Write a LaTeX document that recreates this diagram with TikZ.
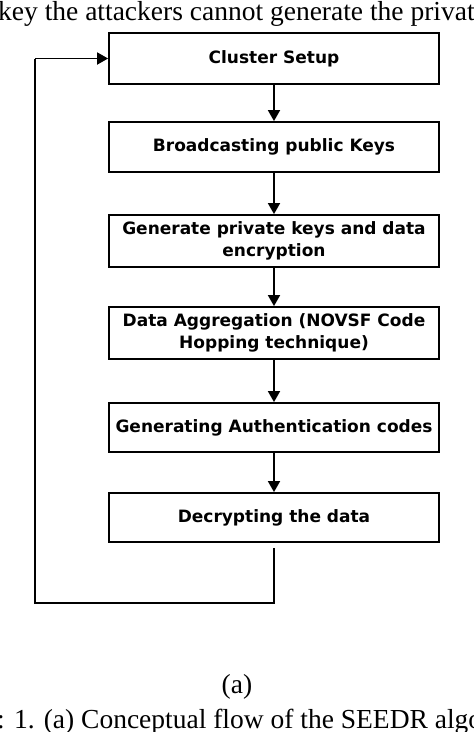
\documentclass[tikz,border=0pt]{standalone}
\usepackage{fontspec}
\setmainfont{Liberation Serif}
\newfontfamily\boxfont{DejaVu Sans}
\usetikzlibrary{arrows.meta}
\tikzset{
  stepbox/.style={draw, line width=1.8pt, minimum width=330pt, inner sep=0pt, align=center,
    font=\boxfont\bfseries\fontsize{17}{22}\selectfont},
  flow/.style={line width=1.8pt, -{Triangle[length=11pt,width=12pt]}},
  loopline/.style={line width=1.8pt},
  serif/.style={font=\fontsize{27.5}{30}\selectfont, inner sep=0pt}
}
\begin{document}
\begin{tikzpicture}[x=1pt,y=-1pt]
\useasboundingbox (0,0) rectangle (474,732);
\clip (0,0) rectangle (474,732);
\node[serif, anchor=base west] (top) at (-2,20) {key the attackers cannot generate the private};
\node[stepbox, minimum height=51pt] (b1) at (274,58.5) {Cluster Setup};
\node[stepbox, minimum height=50pt] (b2) at (274,147) {Broadcasting public Keys};
\node[stepbox, minimum height=52pt] (b3) at (274,241) {Generate private keys and data\\encryption};
\node[stepbox, minimum height=52pt] (b4) at (274,333) {Data Aggregation (NOVSF Code\\Hopping technique)};
\node[stepbox, minimum height=49pt] (b5) at (274,427.5) {Generating Authentication codes};
\node[stepbox, minimum height=49pt] (b6) at (274,517.5) {Decrypting the data};
\draw[flow] (b1) -- (b2);
\draw[flow] (b2) -- (b3);
\draw[flow] (b3) -- (b4);
\draw[flow] (b4) -- (b5);
\draw[flow] (b5) -- (b6);
\coordinate (l0) at ([yshift=-5pt]b6.south);
\coordinate (l1) at (35,603);
\draw[loopline] (l0) -- (l0 |- l1) -- (l1) -- (l1 |- b1.west);
\draw[flow] (l1 |- b1.west) -- (b1.west);
\node[serif, anchor=base] (sub) at (237,693) {(a)};
\node[serif, anchor=base west] (cap) at (-3,728) {: 1. (a) Conceptual flow of the SEEDR algorithm};
\end{tikzpicture}
\end{document}
